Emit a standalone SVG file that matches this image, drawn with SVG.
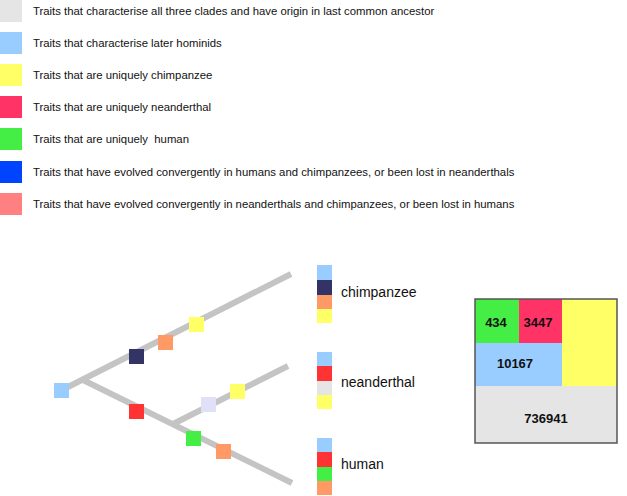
<svg xmlns="http://www.w3.org/2000/svg" width="627" height="496" viewBox="0 0 627 496">
<style>
.lg{font-family:"Liberation Sans",Arial,sans-serif;font-size:11.35px;fill:#111;white-space:pre}
.lb{font-family:"Liberation Sans",Arial,sans-serif;font-size:14px;fill:#111}
.num{font-family:"Liberation Sans",Arial,sans-serif;font-size:13px;font-weight:bold;fill:#111;text-anchor:middle}
.br{stroke:#c4c4c4;stroke-width:6;fill:none}
</style>
<rect width="627" height="496" fill="#fff"/>
<g id="legend">
<rect x="0" y="0" width="22" height="22" fill="#e5e5e5"/>
<text class="lg" x="33" y="15">Traits that characterise all three clades and have origin in last common ancestor</text>
<rect x="0" y="32" width="22" height="22" fill="#99ccff"/>
<text class="lg" x="33" y="47">Traits that characterise later hominids</text>
<rect x="0" y="64" width="22" height="22" fill="#ffff66"/>
<text class="lg" x="33" y="79">Traits that are uniquely chimpanzee</text>
<rect x="0" y="96" width="22" height="22" fill="#ff3366"/>
<text class="lg" x="33" y="111">Traits that are uniquely neanderthal</text>
<rect x="0" y="128" width="22" height="22" fill="#44ee44"/>
<text class="lg" x="33" y="143" xml:space="preserve">Traits that are uniquely  human</text>
<rect x="0" y="161" width="22" height="22" fill="#0044ff"/>
<text class="lg" x="33" y="176">Traits that have evolved convergently in humans and chimpanzees, or been lost in neanderthals</text>
<rect x="0" y="193" width="22" height="22" fill="#ff8080"/>
<text class="lg" x="33" y="208">Traits that have evolved convergently in neanderthals and chimpanzees, or been lost in humans</text>
</g>
<g id="connectors">
<line class="br" x1="62" y1="390" x2="291" y2="274"/>
<line class="br" x1="83" y1="380" x2="292" y2="483"/>
<line class="br" x1="173" y1="424" x2="288" y2="366"/>
</g>
<g id="tree-markers">
<rect x="54" y="383" width="15" height="15" fill="#99ccff"/>
<rect x="129" y="349" width="15" height="15" fill="#333366"/>
<rect x="158" y="335" width="15" height="15" fill="#ff9966"/>
<rect x="189" y="317" width="15" height="15" fill="#ffff66"/>
<rect x="129" y="404" width="15" height="15" fill="#ff3333"/>
<rect x="201" y="397" width="15" height="15" fill="#e0e0f8"/>
<rect x="230" y="384" width="15" height="15" fill="#ffff66"/>
<rect x="186" y="431" width="15" height="15" fill="#44ee44"/>
<rect x="216" y="444" width="15" height="15" fill="#ff9966"/>
</g>
<g id="chimpanzee">
<rect x="317" y="265" width="15" height="15" fill="#99ccff"/>
<rect x="317" y="280" width="15" height="15" fill="#333366"/>
<rect x="317" y="295" width="15" height="14" fill="#ff9966"/>
<rect x="317" y="309" width="15" height="14" fill="#ffff66"/>
<text class="lb" x="341" y="297">chimpanzee</text>
</g>
<g id="neanderthal">
<rect x="317" y="352" width="15" height="14" fill="#99ccff"/>
<rect x="317" y="366" width="15" height="15" fill="#ff3333"/>
<rect x="317" y="381" width="15" height="14" fill="#e5e5e5"/>
<rect x="317" y="395" width="15" height="14" fill="#ffff66"/>
<text class="lb" x="341" y="387">neanderthal</text>
</g>
<g id="human">
<rect x="317" y="438" width="15" height="14" fill="#99ccff"/>
<rect x="317" y="452" width="15" height="15" fill="#ff3333"/>
<rect x="317" y="467" width="15" height="14" fill="#44ee44"/>
<rect x="317" y="481" width="15" height="14" fill="#ff9966"/>
<text class="lb" x="341" y="469">human</text>
</g>
<g id="counts">
<rect x="475" y="299" width="142" height="144" fill="#e5e5e5"/>
<rect x="475" y="299" width="44" height="44" fill="#44ee44"/>
<rect x="519" y="299" width="43" height="44" fill="#ff3366"/>
<rect x="475" y="343" width="87" height="43" fill="#99ccff"/>
<rect x="562" y="299" width="55" height="87" fill="#ffff66"/>
<rect x="475" y="299" width="142" height="144" fill="none" stroke="#555" stroke-width="1.5"/>
<text class="num" x="496" y="327">434</text>
<text class="num" x="538" y="327">3447</text>
<text class="num" x="515" y="368">10167</text>
<text class="num" x="546" y="423">736941</text>
</g>
</svg>
